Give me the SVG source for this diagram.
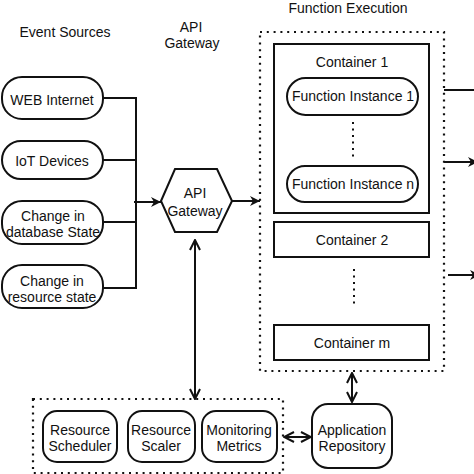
<svg xmlns="http://www.w3.org/2000/svg" width="474" height="474" viewBox="0 0 474 474">
<defs>
<style>
text{font-family:"Liberation Sans",Arial,sans-serif;font-size:14px;fill:#111;text-anchor:middle}
.n{fill:#fff;stroke:#111;stroke-width:2}
.dot{fill:none;stroke:#111;stroke-width:2.2;stroke-dasharray:2 4.8}
.c{fill:none;stroke:#111;stroke-width:2}
</style>
<marker id="fa" viewBox="0 0 10 10" refX="10" refY="5" markerWidth="10" markerHeight="10" markerUnits="userSpaceOnUse" orient="auto">
<path d="M0,0 L10,5 L0,10 L3,5 Z" fill="#111"/>
</marker>
<marker id="oa" viewBox="0 0 12 12" refX="11" refY="6" markerWidth="12" markerHeight="12" markerUnits="userSpaceOnUse" orient="auto-start-reverse">
<path d="M1,1 L11,6 L1,11" fill="none" stroke="#111" stroke-width="2"/>
</marker>
</defs>
<rect width="474" height="474" fill="#fff"/>

<text x="65" y="37">Event Sources</text>
<text x="191" y="32">API</text>
<text x="192" y="48">Gateway</text>
<text x="348" y="13">Function Execution</text>

<g id="web-internet"><rect class="n" x="2" y="77" width="101" height="42" rx="20"/><text x="52" y="105">WEB Internet</text></g>
<g id="iot-devices"><rect class="n" x="2" y="141" width="101" height="38" rx="19"/><text x="52" y="166">IoT Devices</text></g>
<g id="db-state"><rect class="n" x="2" y="201" width="101" height="43" rx="20"/><text x="53" y="221">Change in</text><text x="53" y="237">database State</text></g>
<g id="resource-state"><rect class="n" x="2" y="265" width="101" height="43" rx="20"/><text x="52" y="286">Change in</text><text x="52" y="302">resource state</text></g>

<g id="api-gateway"><polygon class="n" points="161,201 175,169 217,169 232,201 217,232 175,232"/><text x="195" y="198">API</text><text x="195" y="216">Gateway</text></g>

<g id="function-execution"><rect class="dot" x="260" y="32" width="184" height="339"/></g>
<g id="container-1"><rect class="n" x="274" y="44" width="155" height="169"/><text x="352" y="67">Container 1</text></g>
<g id="function-instance-1"><rect class="n" x="287" y="78" width="131" height="37" rx="18.5"/><text x="353" y="101">Function Instance 1</text></g>
<g id="function-instance-n"><rect class="n" x="287" y="166" width="131" height="36" rx="18"/><text x="353" y="189">Function Instance n</text></g>
<g id="container-2"><rect class="n" x="274" y="222" width="155" height="35" rx="0"/><text x="352" y="245">Container 2</text></g>
<g id="container-m"><rect class="n" x="274" y="325" width="155" height="35"/><text x="352" y="348">Container m</text></g>
<line class="c" x1="353" y1="122" x2="353" y2="158" stroke-dasharray="2 4.5"/>
<line class="c" x1="354" y1="269" x2="354" y2="307" stroke-dasharray="2 4.5"/>

<g id="resource-management"><rect class="dot" x="33" y="399" width="250" height="74"/></g>
<g id="resource-scheduler"><rect class="n" x="43" y="411" width="74" height="51" rx="14"/><text x="80" y="435">Resource</text><text x="80" y="451">Scheduler</text></g>
<g id="resource-scaler"><rect class="n" x="128" y="411" width="67" height="51" rx="14"/><text x="161" y="435">Resource</text><text x="161" y="451">Scaler</text></g>
<g id="monitoring-metrics"><rect class="n" x="202" y="411" width="75" height="51" rx="14"/><text x="239" y="435">Monitoring</text><text x="239" y="451">Metrics</text></g>
<g id="application-repository"><rect class="n" x="312" y="404" width="80" height="64" rx="16"/><text x="352" y="435">Application</text><text x="352" y="451">Repository</text></g>

<g id="connectors">
<polyline class="c" points="103,98 136,98 136,288 103,288"/>
<line class="c" x1="103" y1="160" x2="137" y2="160"/>
<line class="c" x1="103" y1="222" x2="136" y2="222"/>
<line class="c" x1="134" y1="202" x2="161" y2="202" marker-end="url(#fa)"/>
<line class="c" x1="232" y1="201" x2="260" y2="201" marker-end="url(#fa)"/>
<line class="c" x1="195" y1="240" x2="195" y2="399" marker-start="url(#oa)" marker-end="url(#oa)"/>
<line class="c" x1="352" y1="373" x2="352" y2="402" marker-start="url(#oa)" marker-end="url(#oa)"/>
<line class="c" x1="284" y1="437" x2="311" y2="437" marker-start="url(#oa)" marker-end="url(#oa)"/>
<line class="c" x1="444" y1="90" x2="474" y2="90"/>
<line class="c" x1="444" y1="162" x2="478" y2="162" marker-end="url(#fa)"/>
<line class="c" x1="448" y1="275" x2="480" y2="275" marker-end="url(#fa)"/>
</g>
</svg>
